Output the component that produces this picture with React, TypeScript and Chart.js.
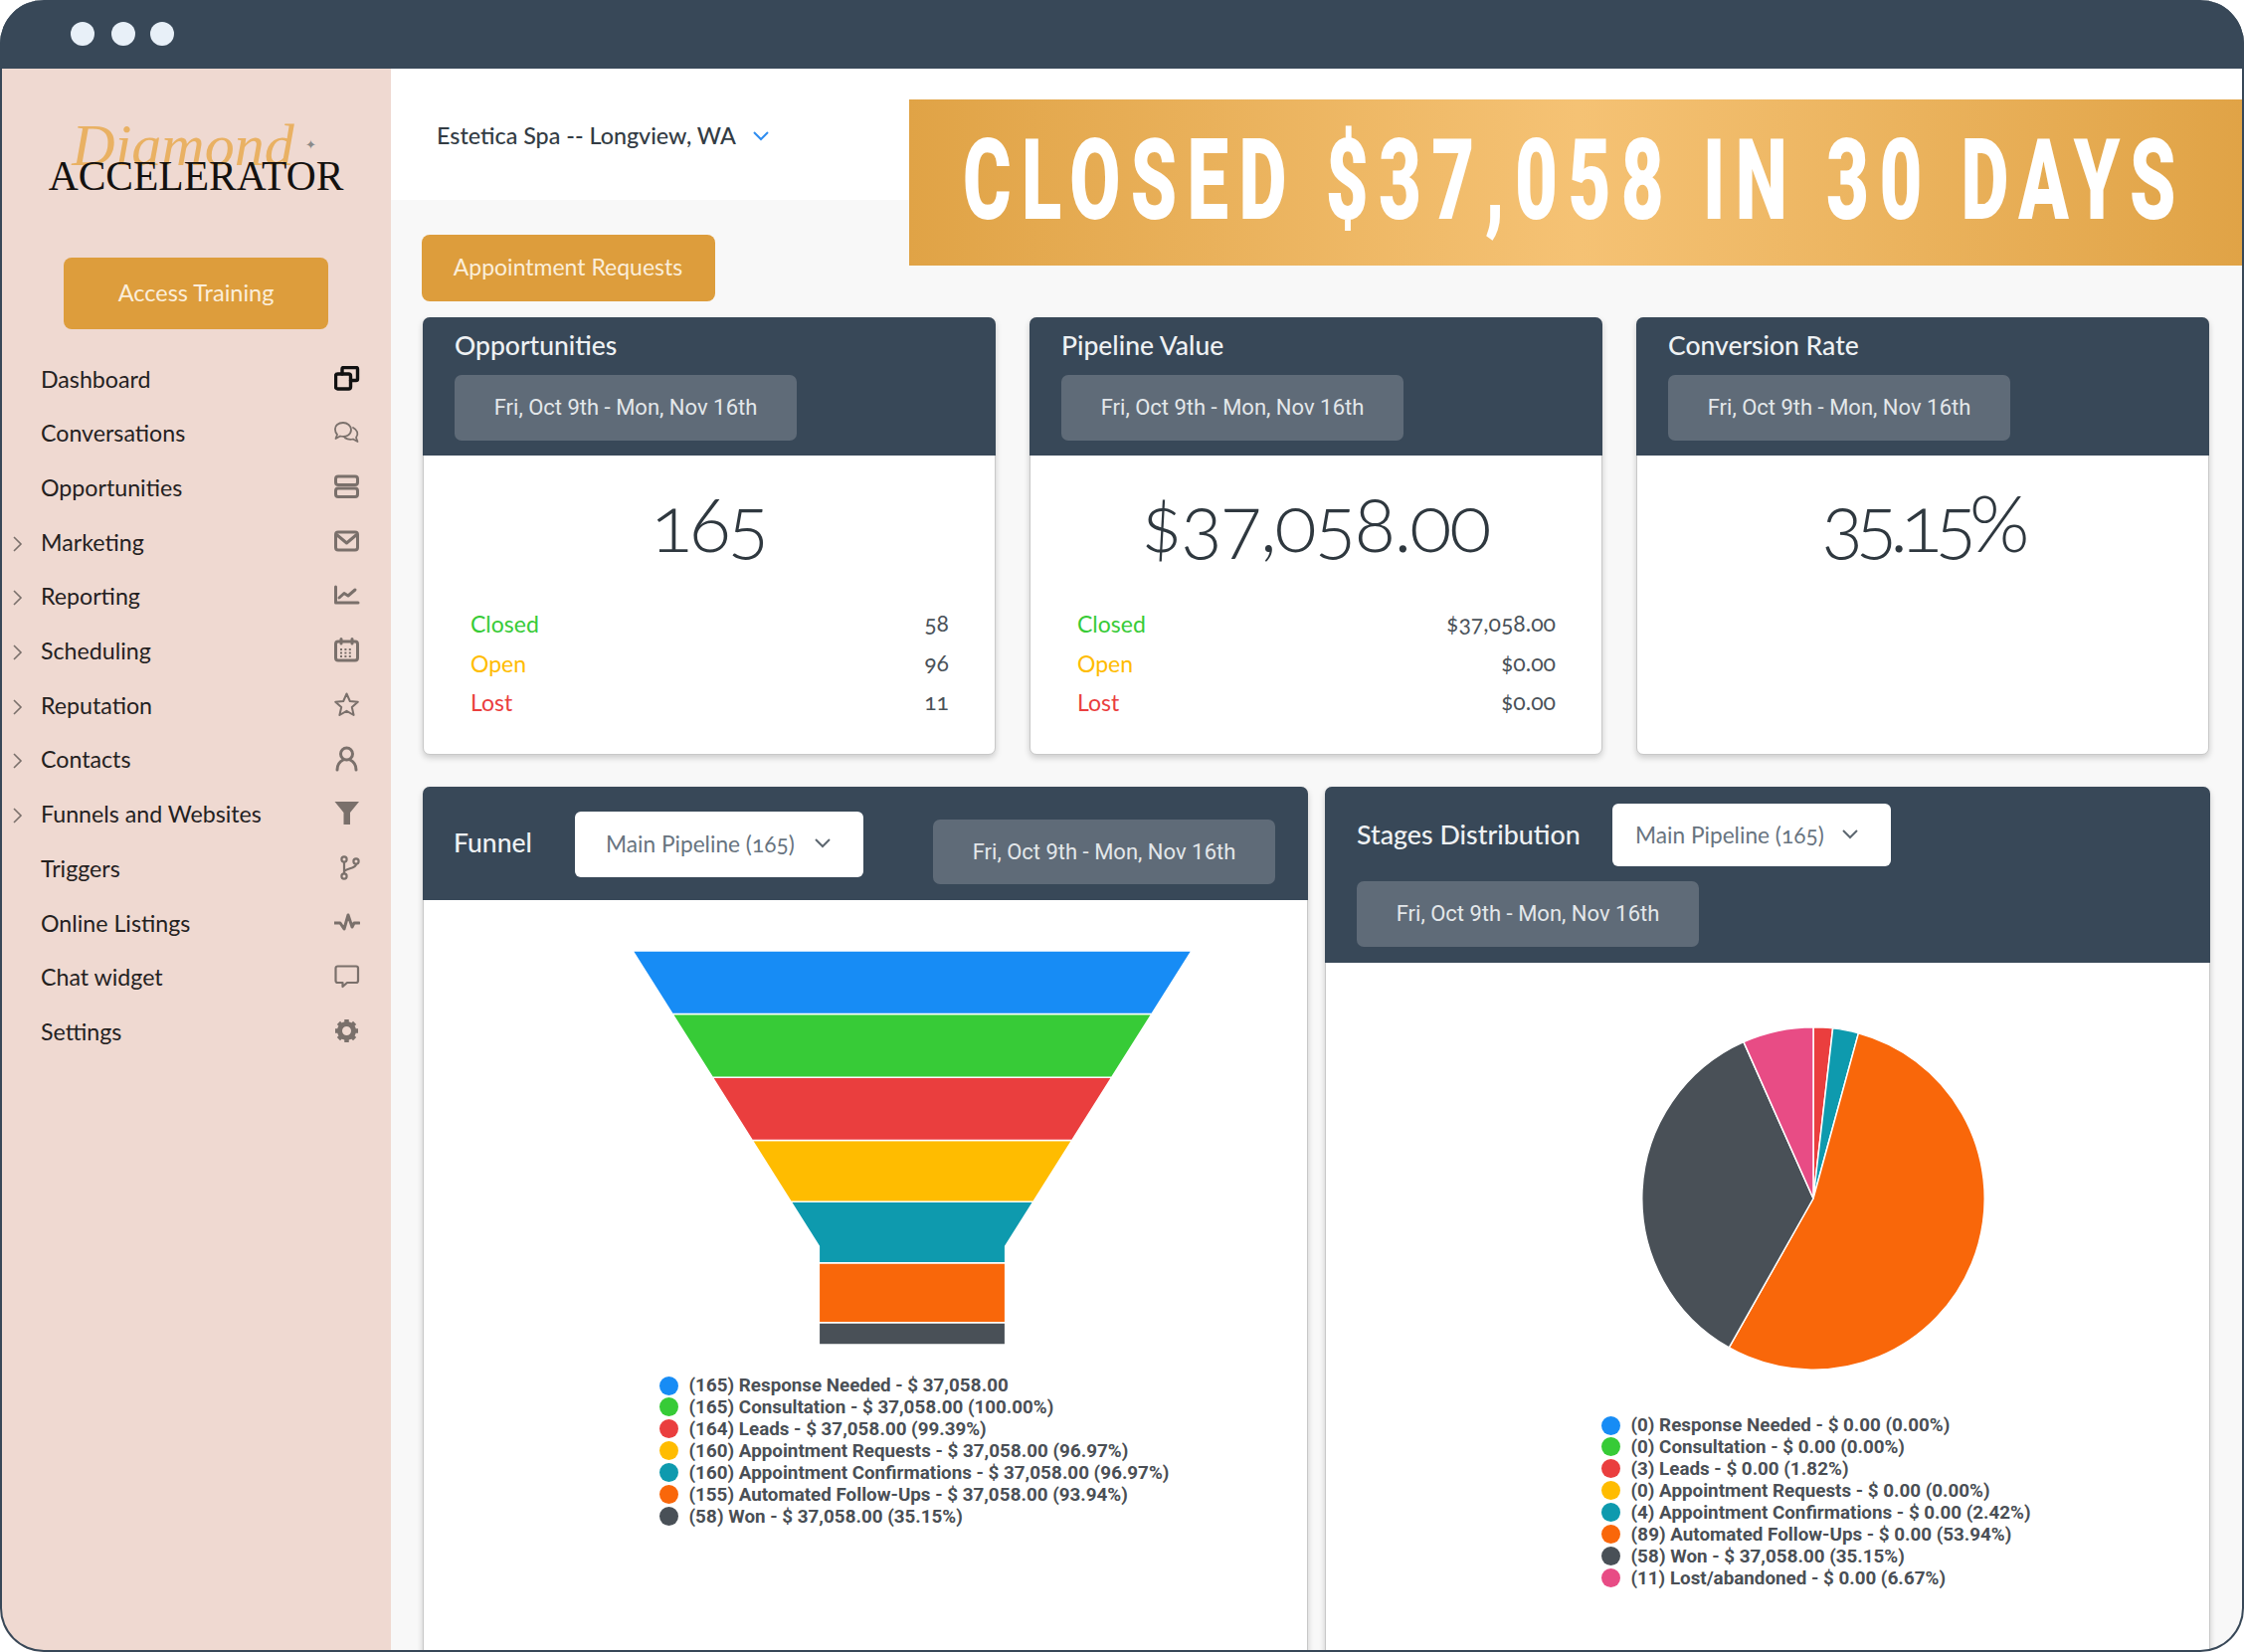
import { useEffect, useRef } from "react";
import { Chart, registerables } from "chart.js";

Chart.register(...registerables);

const stageNames = ["Response Needed", "Consultation", "Leads", "Appointment Requests", "Appointment Confirmations", "Automated Follow-Ups", "Won"];
const funnelCounts = [165, 165, 164, 160, 160, 155, 58];
const funnelPercents = ["", "100.00%", "99.39%", "96.97%", "96.97%", "93.94%", "35.15%"];
const stageColors = ["#178cf5", "#37cb37", "#ea3e3e", "#ffbc00", "#0e9aae", "#f9670a", "#495057", "#e84c85"];

const pieNames = [...stageNames, "Lost/abandoned"];
const pieCounts = [0, 0, 3, 0, 4, 89, 58, 11];
const pieValues = ["0.00", "0.00", "0.00", "0.00", "0.00", "0.00", "37,058.00", "0.00"];
const piePercents = ["0.00%", "0.00%", "1.82%", "0.00%", "2.42%", "53.94%", "35.15%", "6.67%"];

const menuItems = ["Dashboard", "Conversations", "Opportunities", "Marketing", "Reporting", "Scheduling", "Reputation", "Contacts", "Funnels and Websites", "Triggers", "Online Listings", "Chat widget", "Settings"];
const menuWithArrow = ["Marketing", "Reporting", "Scheduling", "Reputation", "Contacts", "Funnels and Websites"];
const dateRange = "Fri, Oct 9th - Mon, Nov 16th";

const navy = "#384858";
const pillGrey = "#5f6b78";
const gold = "#dd9d3c";
const ui = "Lato, 'Open Sans', sans-serif";

// funnel outline, same defaults as the original widget
const neckWidth = 1 / 3;
const neckHeight = 0.25;

function FunnelChart() {
  const canvasRef = useRef<HTMLCanvasElement | null>(null);

  useEffect(() => {
    if (!canvasRef.current) return;

    const total = funnelCounts.reduce((a, b) => a + b, 0);
    const neckAt = total * (1 - neckHeight);
    const halfWidth = (y: number) => (y >= neckAt ? neckWidth : 1 - ((1 - neckWidth) * y) / neckAt);

    let from = 0;
    const datasets = funnelCounts.map((count, i) => {
      const to = from + count;
      const rows = from < neckAt && to > neckAt ? [from, neckAt, to] : [from, to];
      const right = rows.map((y) => ({ x: halfWidth(y), y }));
      const left = [...rows].reverse().map((y) => ({ x: -halfWidth(y), y }));
      from = to;
      return {
        label: stageNames[i],
        data: [...right, ...left, right[0]],
        showLine: true,
        fill: "shape",
        backgroundColor: stageColors[i],
        borderColor: "#ffffff",
        borderWidth: 1.5,
        pointRadius: 0,
        tension: 0,
      };
    });

    const chartInstance = new Chart(canvasRef.current, {
      type: "scatter",
      data: { datasets: datasets as any },
      options: {
        responsive: false,
        animation: false,
        layout: { padding: 0 },
        plugins: { legend: { display: false }, tooltip: { enabled: false } },
        scales: {
          x: { type: "linear", min: -1, max: 1, display: false },
          y: { type: "linear", min: 0, max: total, reverse: true, display: false },
        },
      },
    });

    return () => {
      chartInstance.destroy();
    };
  }, []);

  return <canvas ref={canvasRef} width={562} height={396} style={{ position: "absolute", left: 636, top: 956 }} />;
}

function StagesPie() {
  const canvasRef = useRef<HTMLCanvasElement | null>(null);

  useEffect(() => {
    if (!canvasRef.current) return;

    const chartInstance = new Chart(canvasRef.current, {
      type: "pie",
      data: {
        labels: pieNames,
        datasets: [{ data: pieCounts, backgroundColor: stageColors, borderColor: "#ffffff", borderWidth: 1.5, hoverOffset: 0 }],
      },
      options: {
        responsive: false,
        animation: false,
        plugins: { legend: { display: false }, tooltip: { enabled: false } },
      },
    });

    return () => {
      chartInstance.destroy();
    };
  }, []);

  return <canvas ref={canvasRef} width={346} height={346} style={{ position: "absolute", left: 1650, top: 1032 }} />;
}

function Txt(props: { x: number; y: number; size: number; color: string; children: any; weight?: number; font?: string; right?: boolean; center?: boolean; spacing?: number }) {
  const { x, y, size, color, weight = 400, font = ui, right, center, spacing = 0 } = props;
  return (
    <div
      style={{
        position: "absolute",
        left: x,
        top: y,
        transform: `translate(${right ? "-100%" : center ? "-50%" : "0"}, -50%)`,
        fontFamily: font,
        fontSize: size,
        fontWeight: weight,
        color,
        letterSpacing: spacing,
        whiteSpace: "nowrap",
        lineHeight: 1.2,
        fontVariantNumeric: font === ui ? "oldstyle-nums" : "lining-nums",
      }}
    >
      {props.children}
    </div>
  );
}

function Box(props: { x: number; y: number; w: number; h: number; bg: string; r?: number | string; style?: any; children?: any }) {
  return (
    <div style={{ position: "absolute", left: props.x, top: props.y, width: props.w, height: props.h, background: props.bg, borderRadius: props.r ?? 0, ...props.style }}>
      {props.children}
    </div>
  );
}

function DatePill({ x, y, w, h }: { x: number; y: number; w: number; h: number }) {
  return (
    <>
      <Box x={x} y={y} w={w} h={h} bg={pillGrey} r={7} />
      <Txt x={x + w / 2} y={y + h / 2} size={22} color="#e3e7ea" font="Roboto" center>
        {dateRange}
      </Txt>
    </>
  );
}

function Select({ x, y, w, h, inset }: { x: number; y: number; w: number; h: number; inset: number }) {
  return (
    <>
      <Box x={x} y={y} w={w} h={h} bg="#ffffff" r={6} />
      <Txt x={x + inset} y={y + h / 2} size={22.7} color="#68747f">
        Main Pipeline (165)
      </Txt>
      <svg style={{ position: "absolute", left: x + w - 50, top: y + h / 2 - 7 }} width="18" height="12" viewBox="0 0 18 12">
        <path d="M2 2 L9 9 L16 2" fill="none" stroke="#5d6770" strokeWidth="2" />
      </svg>
    </>
  );
}

function StatCard({ x, title, big, bigSpacing, bigX, rows }: { x: number; title: string; big: string; bigSpacing: number; bigX: number; rows?: string[] }) {
  const labels = ["Closed", "Open", "Lost"];
  const labelColors = ["#37cb37", "#ffbc00", "#ea3e3e"];
  const rowY = [628, 668, 707];
  return (
    <>
      <Box x={x} y={319} w={576} h={440} bg="#ffffff" r={7} style={{ border: "1px solid #c8c8c8", boxSizing: "border-box", boxShadow: "0 3px 6px rgba(0,0,0,0.18)" }} />
      <Box x={x} y={319} w={576} h={139} bg={navy} r="7px 7px 0 0" />
      <Txt x={x + 32} y={348} size={26.5} color="#eef1f3" weight={500}>
        {title}
      </Txt>
      <DatePill x={x + 32} y={377} w={344} h={66} />
      <Txt x={bigX} y={526} size={78} color="#2f383f" weight={300} spacing={bigSpacing} center>
        {big}
      </Txt>
      {rows &&
        rows.map((r, i) => (
          <div key={labels[i]}>
            <Txt x={x + 48} y={rowY[i]} size={23} color={labelColors[i]}>
              {labels[i]}
            </Txt>
            <Txt x={x + 529} y={rowY[i] - 1} size={23} color="#4a5259" right>
              {r}
            </Txt>
          </div>
        ))}
    </>
  );
}

function Legend({ x, y, lines, colors }: { x: number; y: number; lines: string[]; colors: string[] }) {
  return (
    <>
      {lines.map((line, i) => (
        <div key={line}>
          <Box x={x} y={y + i * 21.95 - 9.5} w={19} h={19} bg={colors[i]} r="50%" />
          <Txt x={x + 29.5} y={y + i * 21.95} size={18.8} color="#4a4f55" weight={700} font="Roboto">
            {line}
          </Txt>
        </div>
      ))}
    </>
  );
}

function Icon({ name, y }: { name: string; y: number }) {
  const c = name === "Dashboard" ? "#111111" : "#7a706b";
  const common = { fill: "none", stroke: c, strokeWidth: 3, strokeLinejoin: "round" as const, strokeLinecap: "round" as const };
  let shape: any = null;
  if (name === "Dashboard")
    shape = (
      <>
        <rect x="1.5" y="8" width="15" height="15" rx="2" {...common} strokeWidth={3.4} />
        <path d="M8 8 V3 a1.5 1.5 0 0 1 1.5-1.5 H22 a1.5 1.5 0 0 1 1.5 1.5 V13 a1.5 1.5 0 0 1-1.5 1.5 H16.5" {...common} strokeWidth={3.4} />
      </>
    );
  if (name === "Conversations")
    shape = (
      <>
        <path d="M3 15 L1.5 19 L6 16.5 C12 18 17 15 17 10 C17 6 13 3 9 3 C4 3 0.5 6 1 10 C1 12 2 14 3 15 Z" {...common} strokeWidth={1.8} />
        <path d="M19 8 C23 10 25 14 22 18 L23.5 22 L19 19.5 C15 20.5 11 19 10 17" {...common} strokeWidth={1.8} />
      </>
    );
  if (name === "Opportunities")
    shape = (
      <>
        <rect x="1.5" y="2" width="22" height="8.5" rx="2.5" {...common} />
        <rect x="1.5" y="14" width="22" height="8.5" rx="2.5" {...common} />
      </>
    );
  if (name === "Marketing")
    shape = (
      <>
        <rect x="1.5" y="3" width="22" height="18" rx="2.5" {...common} />
        <path d="M3 6 L12.5 14 L22 6" {...common} />
      </>
    );
  if (name === "Reporting")
    shape = (
      <>
        <path d="M1.5 4 V20 H24" {...common} />
        <path d="M5 15 L10 10.5 L14 13 L21 7" {...common} />
      </>
    );
  if (name === "Scheduling")
    shape = (
      <>
        <rect x="1.5" y="4" width="22" height="19" rx="2.5" {...common} />
        <path d="M7 1.5 V6 M18 1.5 V6" {...common} />
        <path d="M6 12 H19 M6 15.5 H19 M6 19 H19" fill="none" stroke={c} strokeWidth="2" strokeDasharray="2 2.4" />
      </>
    );
  if (name === "Reputation") shape = <path d="M12.5 1.5 L15.8 9 L23.8 9.8 L17.8 15 L19.6 23 L12.5 18.8 L5.4 23 L7.2 15 L1.2 9.8 L9.2 9 Z" {...common} strokeWidth={2} />;
  if (name === "Contacts")
    shape = (
      <>
        <circle cx="12.5" cy="8" r="6" {...common} />
        <path d="M3 24 C3 18 7 15 9 14 M22 24 C22 18 18 15 16 14" {...common} />
      </>
    );
  if (name === "Funnels and Websites") shape = <path d="M0.5 1 H25 L16 12 V24 H9.5 V12 Z" fill={c} />;
  if (name === "Triggers")
    shape = (
      <>
        <circle cx="10" cy="4" r="2.6" {...common} strokeWidth={2.2} />
        <circle cx="10" cy="21" r="2.6" {...common} strokeWidth={2.2} />
        <circle cx="22" cy="6" r="2.6" {...common} strokeWidth={2.2} />
        <path d="M10 7 V18 M22 9 C22 13 13 13 10 16" {...common} strokeWidth={2.2} />
      </>
    );
  if (name === "Online Listings") shape = <path d="M0.5 13 H6 L10 19 L14 5 L18 17 L20 13 H25" {...common} />;
  if (name === "Chat widget") shape = <path d="M3.5 2.5 H22 a2 2 0 0 1 2 2 V17 a2 2 0 0 1-2 2 H13 L8.5 23 V19 H3.5 a2 2 0 0 1-2-2 V4.5 a2 2 0 0 1 2-2 Z" {...common} strokeWidth={2.2} />;
  if (name === "Settings")
    shape = (
      <>
        <circle cx="12.5" cy="12.5" r="7" fill="none" stroke={c} strokeWidth="5" />
        <path d="M12.5 1 V24 M1 12.5 H24 M4.4 4.4 L20.6 20.6 M20.6 4.4 L4.4 20.6" stroke={c} strokeWidth="4.5" strokeDasharray="4 15 4 0" />
        <circle cx="12.5" cy="12.5" r="3.4" fill="#efd9d1" />
      </>
    );
  return (
    <svg style={{ position: "absolute", left: 336, top: y - 14 }} width="26" height="26" viewBox="0 0 26 26">
      {shape}
    </svg>
  );
}

export default function App() {
  useEffect(() => {
    document.body.style.margin = "0";
    document.body.style.background = "#ffffff";
  }, []);

  const funnelLines = stageNames.map((n, i) => `(${funnelCounts[i]}) ${n} - $ 37,058.00${funnelPercents[i] ? ` (${funnelPercents[i]})` : ""}`);
  const pieLines = pieNames.map((n, i) => `(${pieCounts[i]}) ${n} - $ ${pieValues[i]} (${piePercents[i]})`);

  return (
    <div style={{ position: "absolute", left: 0, top: 0, width: 2256, height: 1661, overflow: "hidden", background: "#ffffff" }}>
      <div style={{ position: "absolute", inset: 0, borderRadius: 44, overflow: "hidden", background: "#f8f8f8" }}>
        <Box x={0} y={0} w={2256} h={69} bg={navy} />
        {[83, 124, 163].map((cx) => (
          <Box key={cx} x={cx - 12} y={22} w={24} h={24} bg="#e8f0f8" r="50%" />
        ))}

        {/* sidebar */}
        <Box x={0} y={69} w={393} h={1600} bg="#efd9d1" />
        <Txt x={184} y={146} size={60} color="#e9b163" font="'Liberation Serif'" center>
          <i>Diamond</i>
        </Txt>
        <Txt x={197} y={178} size={41.5} color="#14110f" font="'Liberation Serif'" center>
          ACCELERATOR
        </Txt>
        <Txt x={312} y={146} size={13} color="#8a8a8a" center>
          ✦
        </Txt>
        <Box x={64} y={259} w={266} h={72} bg={gold} r={8} />
        <Txt x={197} y={294} size={23.5} color="#fbeeda" center>
          Access Training
        </Txt>
        {menuItems.map((item, i) => {
          const cy = 381.5 + i * 54.7;
          return (
            <div key={item}>
              <Txt x={41} y={cy} size={23.2} color="#24211f">
                {item}
              </Txt>
              {menuWithArrow.includes(item) && (
                <svg style={{ position: "absolute", left: 12, top: cy - 8 }} width="12" height="18" viewBox="0 0 12 18">
                  <path d="M2 2 L9 9 L2 16" fill="none" stroke="#7a706b" strokeWidth="1.6" />
                </svg>
              )}
              <Icon name={item} y={cy} />
            </div>
          );
        })}

        {/* top bar */}
        <Box x={393} y={69} w={1863} h={132} bg="#ffffff" />
        <Txt x={439} y={137} size={23.3} color="#333c44" weight={500}>
          Estetica Spa -- Longview, WA
        </Txt>
        <svg style={{ position: "absolute", left: 756, top: 130 }} width="18" height="14" viewBox="0 0 18 14">
          <path d="M2 3 L9 10 L16 3" fill="none" stroke="#2f8df0" strokeWidth="2" />
        </svg>
        <Box x={914} y={100} w={1342} h={167} bg="linear-gradient(90deg, #e0a346 0%, #f5c274 50%, #e0a346 100%)" />
        <div
          style={{
            position: "absolute",
            left: 968,
            top: 114,
            fontFamily: "Roboto",
            fontWeight: 900,
            fontSize: 114,
            lineHeight: "134px",
            color: "#ffffff",
            letterSpacing: 16,
            whiteSpace: "nowrap",
            transform: "scaleX(0.65)",
            transformOrigin: "left center",
          }}
        >
          CLOSED $37,058 IN 30 DAYS
        </div>
        <Box x={424} y={236} w={295} h={67} bg={gold} r={8} />
        <Txt x={571} y={269} size={23} color="#fbeeda" center>
          Appointment Requests
        </Txt>

        {/* stat cards */}
        <StatCard x={425} title="Opportunities" big="165" bigX={712} bigSpacing={-3.7} rows={["58", "96", "11"]} />
        <StatCard x={1035} title="Pipeline Value" big="$37,058.00" bigX={1322} bigSpacing={-2.2} rows={["$37,058.00", "$0.00", "$0.00"]} />
        <StatCard x={1645} title="Conversion Rate" big="35.15%" bigX={1932} bigSpacing={-7.6} />

        {/* funnel card */}
        <Box x={425} y={791} w={890} h={900} bg="#ffffff" r={7} style={{ border: "1px solid #c8c8c8", boxSizing: "border-box", boxShadow: "0 3px 6px rgba(0,0,0,0.18)" }} />
        <Box x={425} y={791} w={890} h={114} bg={navy} r="7px 7px 0 0" />
        <Txt x={456} y={848} size={26.5} color="#eef1f3" weight={500}>
          Funnel
        </Txt>
        <Select x={578} y={816} w={290} h={66} inset={31} />
        <DatePill x={938} y={824} w={344} h={65} />
        <FunnelChart />
        <Legend x={663} y={1393} lines={funnelLines} colors={stageColors} />

        {/* stages card */}
        <Box x={1332} y={791} w={890} h={900} bg="#ffffff" r={7} style={{ border: "1px solid #c8c8c8", boxSizing: "border-box", boxShadow: "0 3px 6px rgba(0,0,0,0.18)" }} />
        <Box x={1332} y={791} w={890} h={177} bg={navy} r="7px 7px 0 0" />
        <Txt x={1364} y={839} size={26.8} color="#eef1f3" weight={500}>
          Stages Distribution
        </Txt>
        <Select x={1621} y={808} w={280} h={63} inset={23} />
        <DatePill x={1364} y={886} w={344} h={66} />
        <StagesPie />
        <Legend x={1610} y={1433} lines={pieLines} colors={stageColors} />
      </div>
      {/* window outline goes over everything */}
      <div style={{ position: "absolute", inset: 0, borderRadius: 44, border: `2px solid ${navy}`, borderTop: "none", boxSizing: "border-box", pointerEvents: "none" }} />
    </div>
  );
}
